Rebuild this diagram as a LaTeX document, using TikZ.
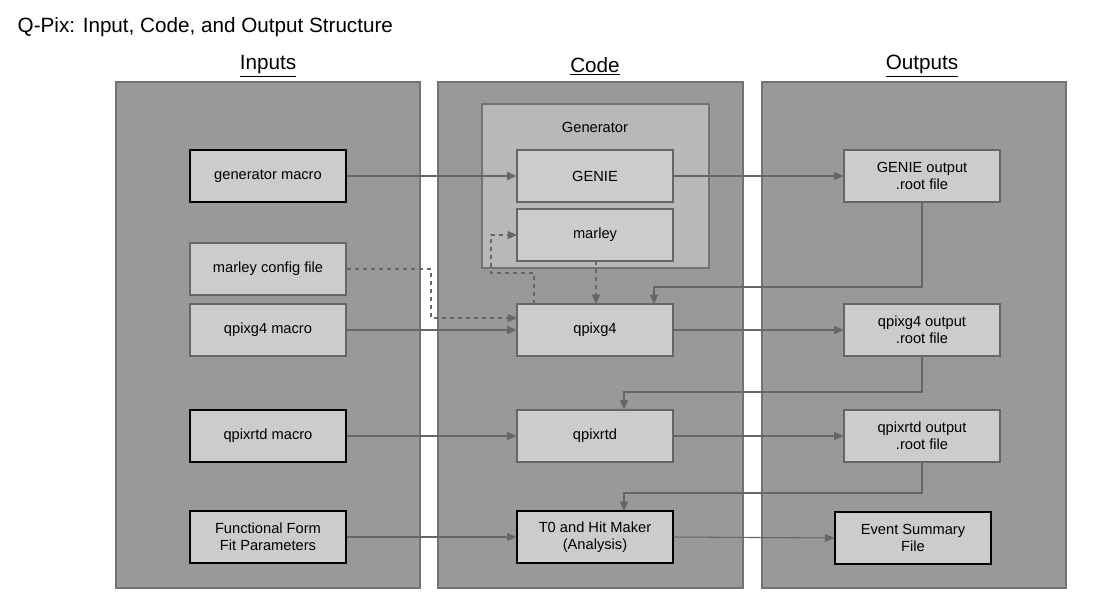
\documentclass[tikz,border=0pt]{standalone}
\usepackage{fontspec}
\setmainfont{Liberation Sans}
\usetikzlibrary{arrows.meta}
\begin{document}
\begin{tikzpicture}[x=0.75pt,y=-0.75pt,
  panel/.style={draw=black!55,fill=black!40,line width=0.8pt},
  gen/.style={draw=black!55,fill=black!28,line width=0.8pt},
  box/.style={draw=black!60,fill=black!20,line width=0.8pt,minimum width=117pt,minimum height=39pt,inner sep=0pt,align=center,font=\fontsize{11}{13}\selectfont},
  dbox/.style={box,draw=black,line width=1pt},
  conn/.style={draw=black!60,line width=0.8pt,-{Triangle[length=7pt,width=6pt]}},
  dconn/.style={conn,dashed},
  head/.style={font=\fontsize{15.5}{18}\selectfont}]
\useasboundingbox (0,0) rectangle (1093,606);
\node[anchor=west,font=\fontsize{15.5}{18}\selectfont] (title) at (13,27) {Q-Pix: Input, Code, and Output Structure};
\draw[panel] (116,82) rectangle (420,588);
\draw[panel] (438,82) rectangle (743,588);
\draw[panel] (762,82) rectangle (1066,588);
\node[head] (hin) at (268,66) {\underline{Inputs}};
\node[head] (hcode) at (595,66) {\underline{Code}};
\node[head] (hout) at (922,66) {\underline{Outputs}};
\draw[gen] (482,104) rectangle (709,268);
\node[font=\fontsize{11}{13}\selectfont] (glabel) at (595,127) {Generator};
% inputs
\node[dbox] (gm) at (268,176) {generator macro};
\node[box] (mc) at (268,269) {marley config file};
\node[box] (qm) at (268,330) {qpixg4 macro};
\node[dbox] (rm) at (268,436) {qpixrtd macro};
\node[dbox] (ff) at (268,537) {Functional Form\\Fit Parameters};
% code
\node[box] (genie) at (595,176) {GENIE};
\node[box] (marley) at (595,235) {marley};
\node[box] (g4) at (595,330) {qpixg4};
\node[box] (rtd) at (595,436) {qpixrtd};
\node[dbox] (t0) at (595,537) {T0 and Hit Maker\\(Analysis)};
% outputs
\node[box] (go) at (922,176) {GENIE output\\.root file};
\node[box] (g4o) at (922,330) {qpixg4 output\\.root file};
\node[box] (rtdo) at (922,436) {qpixrtd output\\.root file};
\node[dbox] (es) at (913,538) {Event Summary\\File};
% connectors
\draw[conn] (gm) -- (genie);
\draw[conn] (genie) -- (go);
\draw[conn] (go.south) |- (654,287) -- (654,304);
\draw[conn] (qm) -- (g4);
\draw[dconn] (mc.east) -- (431,269) |- (517,318);
\draw[dconn] (596,261) -- (596,304);
\draw[dconn] (534,304) |- (491,273) |- (517,235);
\draw[conn] (g4) -- (g4o);
\draw[conn] (g4o.south) |- (624,392) -- (rtd.north -| 624,0);
\draw[conn] (rm) -- (rtd);
\draw[conn] (rtd) -- (rtdo);
\draw[conn] (rtdo.south) |- (624,493) -- (624,511);
\draw[conn] (ff) -- (t0);
\draw[conn] (t0.east) -- (es.west);
\end{tikzpicture}
\end{document}
